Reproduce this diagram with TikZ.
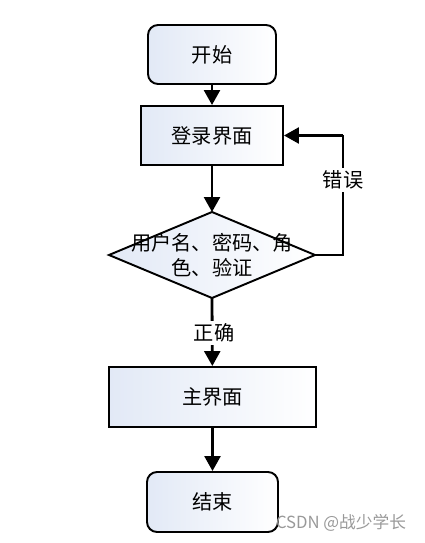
\documentclass[tikz,border=0pt]{standalone}
\usepackage{fontspec}
\newfontfamily\cjk{Noto Sans CJK SC}
\usetikzlibrary{arrows.meta}
\definecolor{paleblue}{RGB}{226,233,246}

\begin{document}
\begin{tikzpicture}[
  font=\cjk\fontsize{11.5}{14.5}\selectfont,
  step box/.style={draw, line width=1.1pt, left color=paleblue, right color=white,
    shading angle=90, inner sep=0pt},
  flow/.style={line width=1.6pt, -{Triangle[width=9pt,length=8.5pt]}},
  tag/.style={fill=white, inner sep=1.5pt}]
\def\u{0.02cm}
\useasboundingbox (0,0) rectangle (424*\u, -543*\u);
\node[step box, rounded corners=0.2cm, minimum width=128*\u, minimum height=59*\u] (b0) at (212*\u, -54.5*\u) {开始};
\node[step box, minimum width=142*\u, minimum height=59*\u] (b1) at (212*\u, -135.5*\u) {登录界面};
\coordinate (dl) at (109*\u, -255*\u);
\coordinate (dt) at (212*\u, -212*\u);
\coordinate (dr) at (315*\u, -255*\u);
\coordinate (db) at (212*\u, -298*\u);
\draw[line width=1.1pt, left color=paleblue, right color=white, shading angle=90] (dl) -- (dt) -- (dr) -- (db) -- cycle;
\node[align=center, inner sep=0pt] (d1) at (212*\u, -255*\u) {用户名、密码、角\\色、验证};
\node[step box, minimum width=207*\u, minimum height=60*\u] (b2) at (212.5*\u, -397*\u) {主界面};
\node[step box, rounded corners=0.2cm, minimum width=131*\u, minimum height=60*\u] (b3) at (212.5*\u, -502*\u) {结束};
\coordinate (r1) at (343*\u, -255*\u);
\coordinate (r2) at (343*\u, -135.5*\u);

\draw[flow] (b0) -- (b1);
\draw[flow] (b1) -- (dt);
\draw[line width=1.6pt] (dr) -- (r1) -- (r2);
\draw[flow] (r2) -- (b1.east);
\node[tag] (e1) at (343*\u, -180*\u) {错误};
\draw[flow] (db) -- (b2);
\node[tag] (e2) at (214*\u, -333*\u) {正确};
\draw[flow] (b2) -- (b3);
\node[text=black!40, font=\cjk\fontsize{9.5}{11}\selectfont, inner sep=0pt] (wm) at (341*\u, -523*\u) {CSDN @战少学长};
\end{tikzpicture}
\end{document}
